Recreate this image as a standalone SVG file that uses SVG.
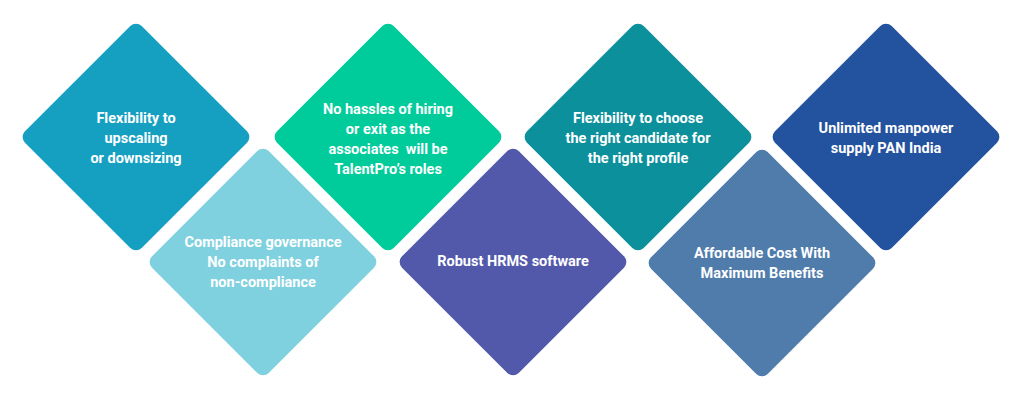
<svg xmlns="http://www.w3.org/2000/svg" width="1024" height="401" viewBox="0 0 1024 401">
<style>
.d{stroke:none}
.t{font-family:Roboto,"Liberation Sans",Arial,sans-serif;font-size:14.5px;font-weight:700;fill:#ffffff;text-anchor:middle}
</style>
<defs>
<rect id="dia" x="-82.5" y="-82.5" width="165" height="165" rx="8" ry="8" transform="rotate(45)"/>
</defs>
<rect width="1024" height="401" fill="#ffffff"/>
<g id="node1" transform="translate(136,137)">
<use href="#dia" fill="#15a0c2"/>
</g>
<g id="node3" transform="translate(388,137)">
<use href="#dia" fill="#00cc9b"/>
</g>
<g id="node5" transform="translate(638,137)">
<use href="#dia" fill="#0b909c"/>
</g>
<g id="node7" transform="translate(886,137)">
<use href="#dia" fill="#23529e"/>
</g>
<g id="node2" transform="translate(263,262)">
<use href="#dia" fill="#80d1df"/>
</g>
<g id="node4" transform="translate(513,262)">
<use href="#dia" fill="#5259aa"/>
</g>
<g id="node6" transform="translate(762,263)">
<use href="#dia" fill="#4f7cab"/>
</g>
<g id="labels">
<text class="t" x="136" y="123">Flexibility to</text>
<text class="t" x="136" y="143">upscaling</text>
<text class="t" x="136" y="163">or downsizing</text>
<text class="t" x="388" y="114">No hassles of hiring</text>
<text class="t" x="388" y="134">or exit as the</text>
<text class="t" x="388" y="154" xml:space="preserve">associates  will be</text>
<text class="t" x="388" y="174">TalentPro’s roles</text>
<text class="t" x="638" y="123">Flexibility to choose</text>
<text class="t" x="638" y="143">the right candidate for</text>
<text class="t" x="638" y="163">the right profile</text>
<text class="t" x="886" y="133">Unlimited manpower</text>
<text class="t" x="886" y="153">supply PAN India</text>
<text class="t" x="263" y="247">Compliance governance</text>
<text class="t" x="263" y="267">No complaints of</text>
<text class="t" x="263" y="287">non-compliance</text>
<text class="t" x="513" y="266">Robust HRMS software</text>
<text class="t" x="762" y="258">Affordable Cost With</text>
<text class="t" x="762" y="278">Maximum Benefits</text>
</g>
<g id="connectors"/>
</svg>
